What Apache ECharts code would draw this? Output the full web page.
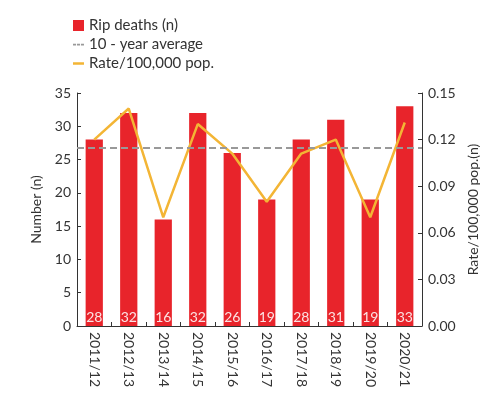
<!DOCTYPE html>
<html><head><meta charset="utf-8">
<script src="https://cdn.jsdelivr.net/npm/echarts@6/dist/echarts.min.js"></script>
<style>html,body{margin:0;padding:0;background:#fff}#c{width:500px;height:401px}</style>
</head><body><div id="c"></div>
<script>
const categories = ['2011/12','2012/13','2013/14','2014/15','2015/16','2016/17','2017/18','2018/19','2019/20','2020/21'];
const deaths = [28,32,16,32,26,19,28,31,19,33];
const rates = [0.120,0.140,0.070,0.130,0.111,0.080,0.111,0.120,0.070,0.131];
const tenYearAverage = 26.8;
const leftTicks = {min:0, max:35, interval:5};
const rightTicks = {min:0, max:0.15, interval:0.03};

const FONT = 'Lato';
const TXT = '#333';
const dashIcon = 'path://M0,0h0.01v0.01h-0.01z M13,11h0.01v0.01h-0.01z M0,4.5h3.6v2.2h-3.6z M4.7,4.5h3.6v2.2h-3.6z M9.4,4.5h3.6v2.2h-3.6z';
const lineIcon = 'path://M0,0h0.01v0.01h-0.01z M13,11h0.01v0.01h-0.01z M0,4h13v3h-13z';
const chart = echarts.init(document.getElementById('c'), null, {renderer:'canvas'});
chart.setOption({
  animation:false,
  textStyle:{fontFamily:FONT},
  legend:{
    orient:'vertical', left:73, top:18, padding:0, itemGap:4, itemWidth:11, itemHeight:11,
    textStyle:{fontFamily:FONT, fontSize:15, color:TXT},
    data:[
      {name:'Rip deaths (n)', icon:'rect'},
      {name:'10 - year average', icon:dashIcon},
      {name:'Rate/100,000 pop.', icon:lineIcon}
    ]
  },
  grid:{left:77, right:78, top:93, bottom:75},
  xAxis:{
    type:'category', data:categories,
    axisLine:{lineStyle:{color:TXT, width:1}},
    axisTick:{show:true, inside:true, length:4, alignWithLabel:false, lineStyle:{color:TXT}},
    axisLabel:{rotate:-90, fontSize:14, color:TXT, margin:6, fontFamily:FONT}
  },
  yAxis:[{
    type:'value', min:leftTicks.min, max:leftTicks.max, interval:leftTicks.interval,
    name:'Number (n)', nameLocation:'middle', nameGap:25, nameRotate:90,
    nameTextStyle:{fontSize:14, color:TXT, fontFamily:FONT},
    axisLine:{show:true, lineStyle:{color:TXT, width:1}},
    axisTick:{show:true, inside:true, length:4, lineStyle:{color:TXT}},
    axisLabel:{fontSize:14, color:TXT, margin:6, fontFamily:FONT},
    splitLine:{show:false}
  },{
    type:'value', min:rightTicks.min, max:rightTicks.max, interval:rightTicks.interval,
    position:'right',
    name:'Rate/100,000 pop.(n)', nameLocation:'middle', nameGap:39, nameRotate:90,
    nameTextStyle:{fontSize:14, color:TXT, fontFamily:FONT},
    axisLine:{show:true, lineStyle:{color:TXT, width:1}},
    axisTick:{show:true, inside:true, length:4, lineStyle:{color:TXT}},
    axisLabel:{fontSize:14, color:TXT, margin:6, fontFamily:FONT, formatter:v=>v.toFixed(2)},
    splitLine:{show:false}
  }],
  series:[
    {
      name:'Rip deaths (n)', type:'bar', data:deaths, barWidth:'50%',
      itemStyle:{color:'#e8242b'},
      label:{show:true, position:'insideBottom', distance:2, color:'#fbe3e3', fontSize:14, fontFamily:FONT}
    },
    {
      name:'10 - year average', type:'line', data:[], symbol:'none',
      itemStyle:{color:'#999'},
      lineStyle:{color:'#999', width:2, type:[7,4]},
      markLine:{
        silent:true, symbol:'none', label:{show:false},
        lineStyle:{color:'#999', width:2, type:[7,4]},
        data:[{yAxis:tenYearAverage}]
      },
      z:5
    },
    {
      name:'Rate/100,000 pop.', type:'line', yAxisIndex:1, data:rates, symbol:'none',
      itemStyle:{color:'#f3b535'},
      lineStyle:{color:'#f3b535', width:2.5},
      z:4
    }
  ]
});
</script></body></html>
